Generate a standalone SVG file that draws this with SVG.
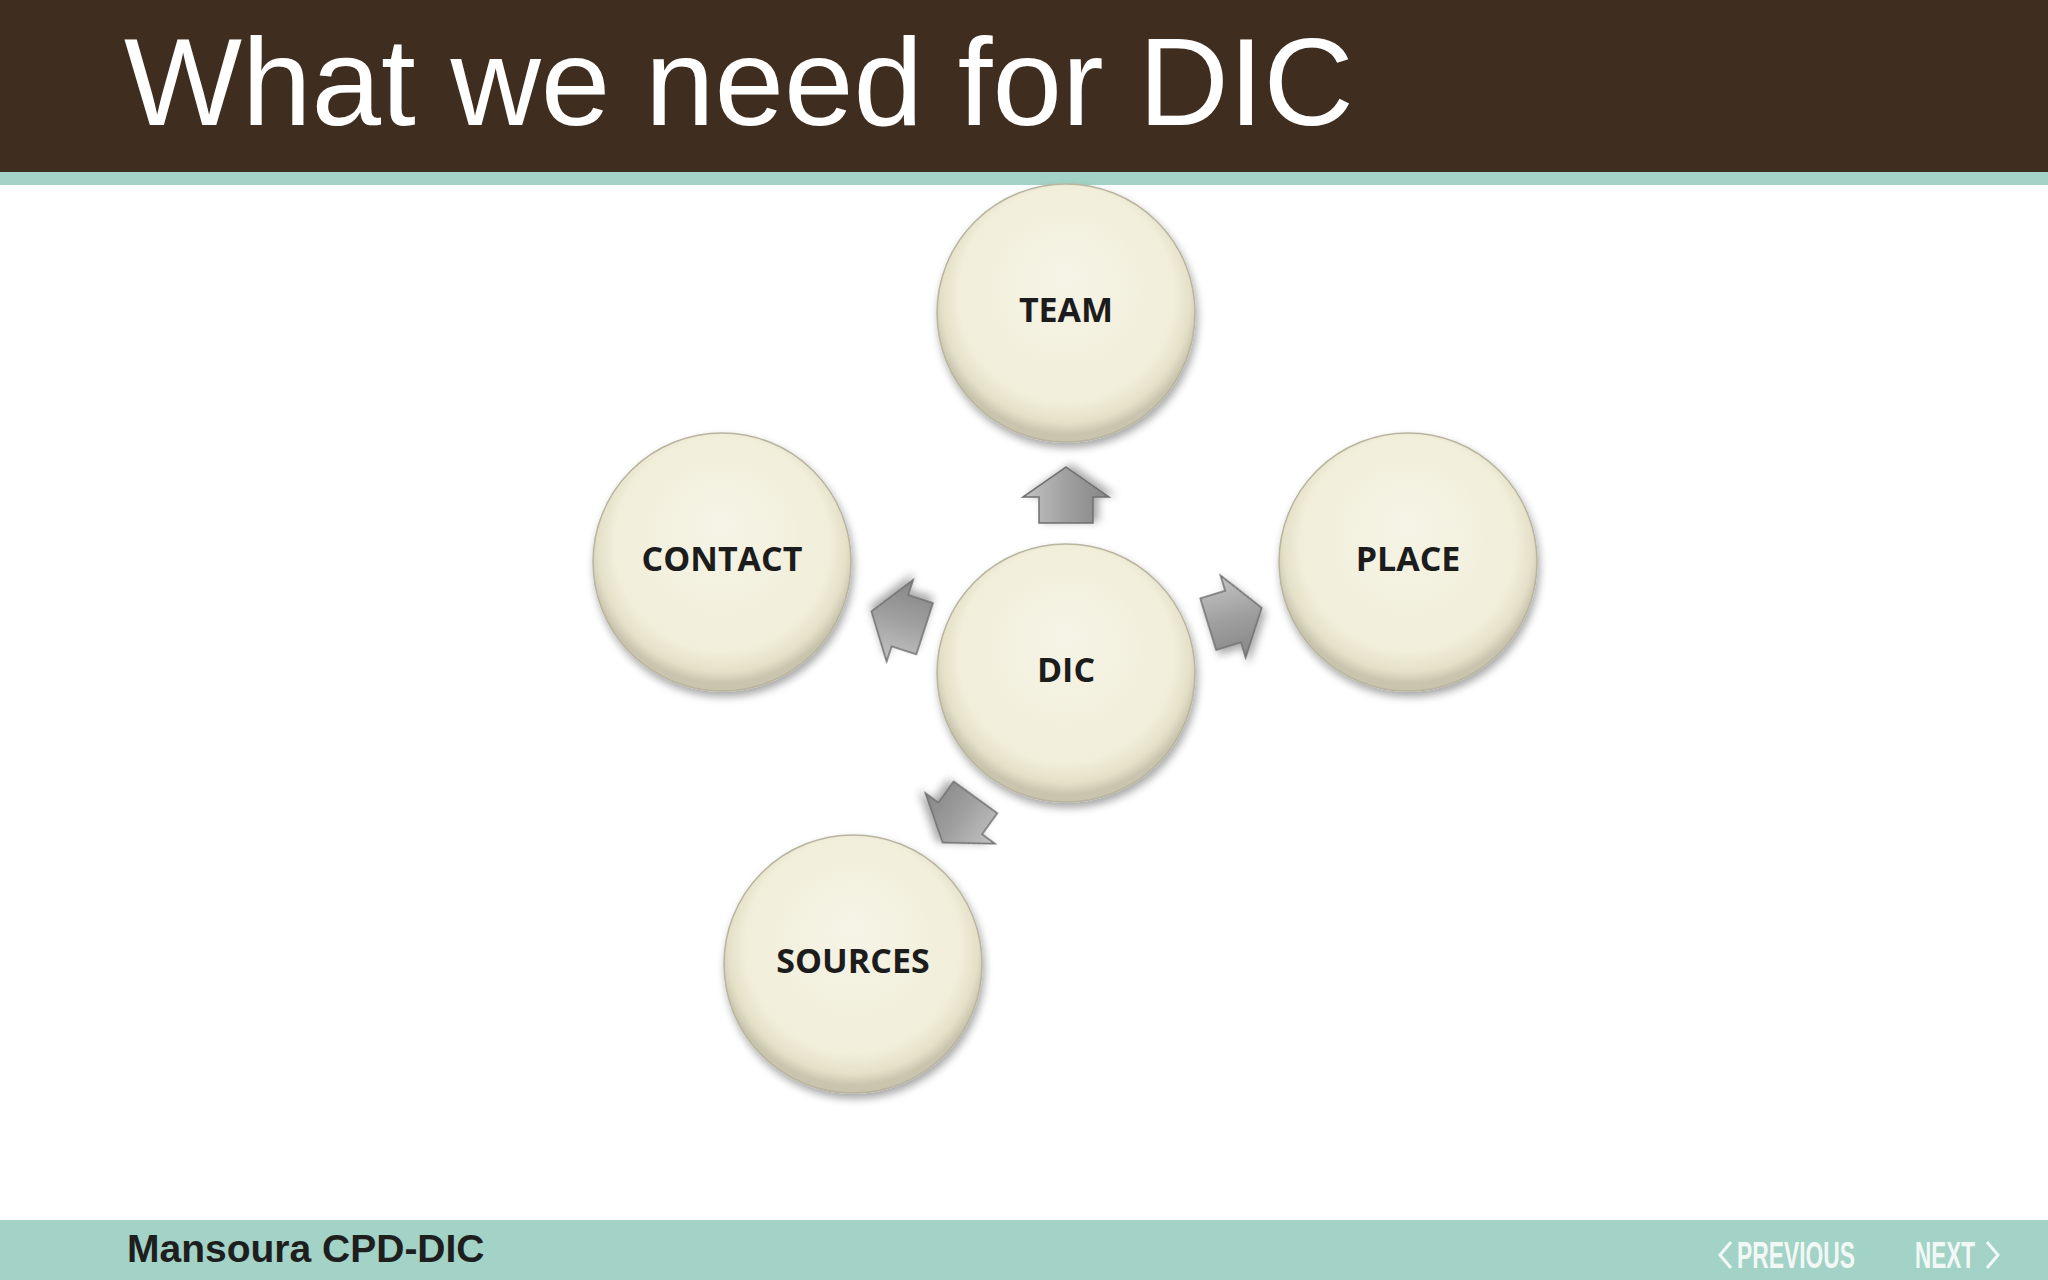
<svg xmlns="http://www.w3.org/2000/svg" width="2048" height="1280" viewBox="0 0 2048 1280">
<defs>
<radialGradient id="ball" cx="50%" cy="45%" r="52%" fx="50%" fy="35%">
<stop offset="0" stop-color="#F6F4E6"/>
<stop offset="0.8" stop-color="#F1EEDA"/>
<stop offset="0.93" stop-color="#E4E0C8"/>
<stop offset="1" stop-color="#C8C4AE"/>
</radialGradient>
<linearGradient id="arr" x1="0" y1="0" x2="0" y2="1">
<stop offset="0" stop-color="#C4C4C4"/>
<stop offset="0.5" stop-color="#A0A0A0"/>
<stop offset="1" stop-color="#858585"/>
</linearGradient>
<filter id="sh" x="-20%" y="-20%" width="140%" height="140%">
<feGaussianBlur in="SourceAlpha" stdDeviation="4"/>
<feOffset dx="2" dy="5" result="b"/>
<feComponentTransfer><feFuncA type="linear" slope="0.35"/></feComponentTransfer>
<feMerge><feMergeNode/><feMergeNode in="SourceGraphic"/></feMerge>
</filter>
<polygon id="arrowShape" points="-28,-27 -2,-27 -2,-43 28,0 -2,43 -2,27 -28,27"/>
</defs>
<style>
.ball{fill:url(#ball);stroke:#B8B49E;stroke-width:1.5;filter:url(#sh)}
.lbl{font-family:"Open Sans","Noto Sans",sans-serif;font-weight:700;font-size:34px;fill:#1C1C1C;text-anchor:middle}
.arrow{fill:url(#arr);stroke:#6F6F6F;stroke-width:1.5;filter:url(#sh)}
.nav{font-family:"Liberation Sans",Arial,sans-serif;font-weight:700;font-size:36px;fill:#F2F8F6}
.chev{fill:none;stroke:#F2F8F6;stroke-width:3}
</style>
<rect x="0" y="0" width="2048" height="1280" fill="#FFFFFF"/>
<g id="header">
<rect x="0" y="0" width="2048" height="172" fill="#3F2E20"/>
<rect x="0" y="172" width="2048" height="13" fill="#A3D3C6"/>
<text x="124" y="125" font-family="Liberation Sans, Arial, sans-serif" font-size="125" fill="#FFFFFF">What we need for DIC</text>
</g>
<g id="connectors">
<use href="#arrowShape" class="arrow" transform="translate(1066,495) rotate(-90)"/>
<use href="#arrowShape" class="arrow" transform="translate(898,620) rotate(198)"/>
<use href="#arrowShape" class="arrow" transform="translate(1235,616) rotate(-17)"/>
<use href="#arrowShape" class="arrow" transform="translate(959,820) rotate(126)"/>
</g>
<g id="node-team">
<circle class="ball" cx="1066" cy="313" r="129"/>
<text class="lbl" x="1066" y="322">TEAM</text>
</g>
<g id="node-contact">
<circle class="ball" cx="722" cy="562" r="129"/>
<text class="lbl" x="722" y="571">CONTACT</text>
</g>
<g id="node-place">
<circle class="ball" cx="1408" cy="562" r="129"/>
<text class="lbl" x="1408" y="571">PLACE</text>
</g>
<g id="node-dic">
<circle class="ball" cx="1066" cy="673" r="129"/>
<text class="lbl" x="1066" y="682">DIC</text>
</g>
<g id="node-sources">
<circle class="ball" cx="853" cy="964" r="129"/>
<text class="lbl" x="853" y="973">SOURCES</text>
</g>
<g id="footer">
<rect x="0" y="1220" width="2048" height="60" fill="#A3D3C6"/>
<text x="127" y="1262" font-family="Liberation Sans, Arial, sans-serif" font-weight="700" font-size="39" fill="#1E1E1E">Mansoura CPD-DIC</text>
<polyline class="chev" points="1731,1242 1720,1255 1731,1268"/>
<text class="nav" x="1737" y="1268" textLength="118" lengthAdjust="spacingAndGlyphs">PREVIOUS</text>
<text class="nav" x="1915" y="1268" textLength="60" lengthAdjust="spacingAndGlyphs">NEXT</text>
<polyline class="chev" points="1987,1242 1998,1255 1987,1268"/>
</g>
</svg>
